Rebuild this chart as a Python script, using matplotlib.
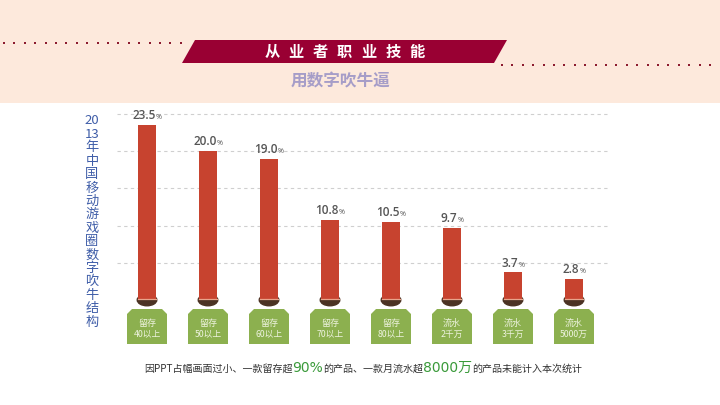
import matplotlib
matplotlib.use('Agg')
import matplotlib.pyplot as plt
from matplotlib.patches import Rectangle, Polygon, Ellipse
from matplotlib.offsetbox import TextArea, HPacker, AnnotationBbox
import numpy as np

plt.rcParams['font.family'] = ['Noto Sans CJK SC', 'DejaVu Sans']

# ---------------- data ----------------
cat_line1 = ['留存', '留存', '留存', '留存', '留存', '流水', '流水', '流水']
cat_line2 = ['40以上', '50以上', '60以上', '70以上', '80以上', '2千万', '3千万', '5000万']
values = [23.5, 20.0, 19.0, 10.8, 10.5, 9.7, 3.7, 2.8]
grid_ticks = [5, 10, 15, 20, 25]
title = '从业者职业技能'
subtitle = '用数字吹牛逼'
side_label = ['20', '13'] + list('年中国移动游戏圈数字吹牛结构')
note_parts = [('因PPT占幅画面过小、一款留存超', False), ('90%', True),
              ('的产品、一款月流水超', False), ('8000万', True),
              ('的产品未能计入本次统计', False)]

# ---------------- figure ----------------
W, H = 720, 405
fig = plt.figure(figsize=(7.2, 4.05), dpi=100)
fig.patch.set_facecolor('white')

bg = fig.add_axes([0, 0, 1, 1])
bg.set_xlim(0, W)
bg.set_ylim(H, 0)
bg.axis('off')
bg.add_patch(Rectangle((0, 0), W, 103, color='#fde9dc', lw=0))
bg.add_patch(Polygon([(182, 63), (195, 40), (507, 40), (494, 63)], closed=True,
                     color='#990033', lw=0))
dl = np.arange(4, 190, 10.4)
bg.scatter(dl, np.full_like(dl, 43), marker='s', s=4, color='#8c1c30', lw=0)
dr = np.arange(502, 720, 10.4)
bg.scatter(dr, np.full_like(dr, 65), marker='s', s=4, color='#8c1c30', lw=0)
for i, ch in enumerate(title):
    bg.text(272 + i * 24.2, 51.5, ch, color='white', fontsize=11,
            fontweight='bold', ha='center', va='center')
bg.text(341, 81, subtitle, color='#a69dc8', fontsize=12, fontweight='bold',
        ha='center', va='center')
for i, s in enumerate(side_label):
    bg.text(92, 121 + i * 13.4, s, color='#3f5da8', fontsize=9.5,
            fontweight='light', ha='center', va='center')

areas = []
for txt, hl in note_parts:
    if hl:
        props = dict(fontsize=10, color='#3a9a3a', fontweight='normal',
                     family=['DejaVu Sans', 'Noto Sans CJK SC'])
    else:
        props = dict(fontsize=7.2, color='#333333')
    areas.append(TextArea(txt, textprops=props))
pack = HPacker(children=areas, align='baseline', pad=0, sep=0)
bg.add_artist(AnnotationBbox(pack, (363, 368), xycoords='data',
                             box_alignment=(0.5, 0.5), frameon=False))

# ---------------- chart axes ----------------
x0, x1, ytop, ybot, base = 117, 610, 105, 345, 300
sp, sc = 61.0, 7.44
ax = fig.add_axes([x0 / W, (H - ybot) / H, (x1 - x0) / W, (ybot - ytop) / H])
ax.set_xlim(-(147 - x0) / sp, (x1 - 147) / sp)
ax.set_ylim(-(ybot - base) / sc, (base - ytop) / sc)
ax.patch.set_alpha(0)
for s in ax.spines.values():
    s.set_visible(False)
ax.set_yticks(grid_ticks)
ax.set_xticks([])
ax.tick_params(length=0, labelleft=False, labelbottom=False)
ax.yaxis.grid(True, ls=(0, (3, 3)), color='#cfcfcf', lw=0.8)
ax.set_axisbelow(True)

x = np.arange(len(values))
ax.bar(x, values, width=0.31, color='#c7432f', zorder=3)
for xi, v, l1, l2 in zip(x, values, cat_line1, cat_line2):
    ax.add_patch(Ellipse((xi, 0), width=0.32, height=1.55, color='#4b3324', zorder=2))
    ax.plot([xi - 0.155, xi + 0.155], [0.1, 0.1], color='#e8a48c', lw=0.9, zorder=4)
    top, bot = -9 / sc, -44 / sc
    hw, cx, cy = 20 / sp, 5 / sp, 5 / sc
    ax.add_patch(Polygon([(xi - hw, bot), (xi - hw, top - cy), (xi - hw + cx, top),
                          (xi + hw - cx, top), (xi + hw, top - cy), (xi + hw, bot)],
                         closed=True, color='#8cb04f', lw=0, clip_on=False))
    ax.text(xi, -23.5 / sc, l1, ha='center', va='center', fontsize=6.5, color='#eef3df')
    ax.text(xi, -34 / sc, l2, ha='center', va='center', fontsize=6.3, color='#eef3df')
    num = TextArea(f'{v:.1f}', textprops=dict(fontsize=8.5, fontweight='semibold',
                                              color='#555555', family='Open Sans'))
    pct = TextArea('%', textprops=dict(fontsize=5.2, color='#555555', family='Open Sans'))
    hp = HPacker(children=[num, pct], align='baseline', pad=0, sep=0)
    ax.add_artist(AnnotationBbox(hp, (xi, v), xycoords='data', xybox=(0, 2),
                                 boxcoords='offset points', box_alignment=(0.5, 0),
                                 frameon=False))

fig.savefig('out.png', dpi=100, facecolor='white')
